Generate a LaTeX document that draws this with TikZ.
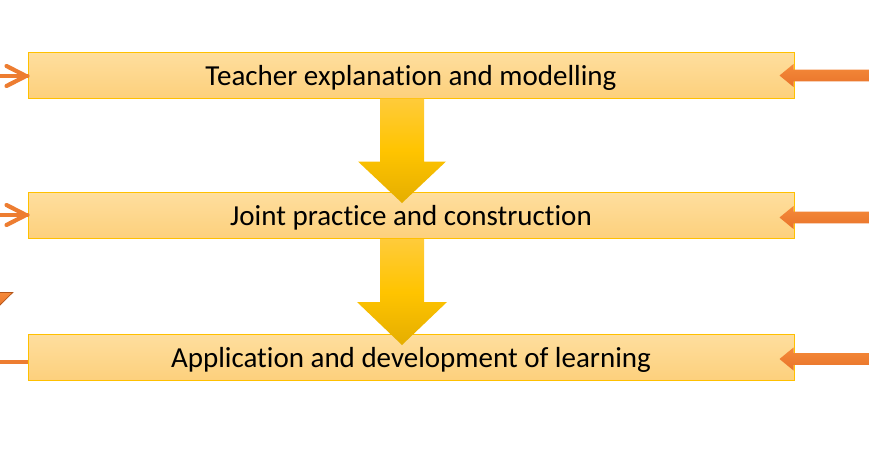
\documentclass[tikz,border=0pt]{standalone}
\usepackage{fontspec}
\setmainfont[Ligatures=NoCommon]{Carlito}
\usetikzlibrary{calc}
\definecolor{boxtop}{HTML}{FEDE9E}
\definecolor{boxbot}{HTML}{FDD07C}
\definecolor{boxline}{HTML}{FFC000}
\definecolor{dtop}{HTML}{FFCB3A}
\definecolor{dmid}{HTML}{FFC400}
\definecolor{dbot}{HTML}{E5AE00}
\definecolor{orng}{HTML}{ED7D31}
\definecolor{orngl}{HTML}{F58A3A}
\definecolor{orngd}{HTML}{E8732A}
\definecolor{brn}{HTML}{B5561A}
\tikzset{
  stagebox/.style={draw=boxline, line width=1pt, top color=boxtop, bottom color=boxbot,
    minimum width=766pt, minimum height=46pt, inner sep=0pt},
  stagetext/.style={anchor=base, font=\fontsize{29}{34}\selectfont, inner sep=0pt},
  downarrow/.style={top color=dtop, bottom color=dbot, middle color=dmid, draw=none},
  inarrow/.style={top color=orngl, bottom color=orngd, draw=none},
  linearrow/.style={draw=orng, line width=4.2pt, line cap=round, line join=round},
}
\begin{document}
\begin{tikzpicture}[x=1pt,y=-1pt]
\useasboundingbox (0,0) rectangle (869,456);
\fill[white] (0,0) rectangle (869,456);

\node[stagebox] (b1) at (411,75) {};
\node[stagebox] (b2) at (411,215.5) {};
\node[stagebox] (b3) at (411,357.5) {};

\node[stagetext] (t1) at (411,85) {Teacher explanation and modelling};
\node[stagetext] (t2) at (411,225.5) {Joint practice and construction};
\node[stagetext] (t3) at (411,367.5) {Application and development of learning};

% down block arrows
\coordinate (d1) at ($(b1.south)+(-9,0)$);
\coordinate (d2) at ($(b2.south)+(-9,0)$);
\path[downarrow] ($(d1)+(-22,0)$) -- ($(d1)+(22,0)$) -- ($(d1)+(22,63)$)
  -- ($(d1)+(44,63)$) -- ($(d1|-b2.north)+(0,11)$) -- ($(d1)+(-44,63)$)
  -- ($(d1)+(-22,63)$) -- cycle;
\path[downarrow] ($(d2)+(-22,0)$) -- ($(d2)+(22,0)$) -- ($(d2)+(22,63)$)
  -- ($(d2)+(45,63)$) -- ($(d2|-b3.north)+(0,11)$) -- ($(d2)+(-45,63)$)
  -- ($(d2)+(-22,63)$) -- cycle;

% right incoming block arrows
\coordinate (r1) at (869,75.5);
\coordinate (r2) at (869,217.5);
\coordinate (r3) at (869,359);
\foreach \r/\b in {r1/b1,r2/b2,r3/b3}{
  \path[inarrow] ($(\r)+(0,-5.8)$) -- ($(\b.east|-\r)+(-1,-5.8)$) -- ($(\b.east|-\r)+(-1,-11.5)$)
    -- ($(\b.east|-\r)+(-15,0)$) -- ($(\b.east|-\r)+(-1,11.5)$) -- ($(\b.east|-\r)+(-1,5.8)$)
    -- ($(\r)+(0,5.8)$) -- cycle;
}

% left incoming line arrows
\coordinate (l1) at (0,76);
\coordinate (l2) at (0,215);
\coordinate (l3) at (0,362);
\draw[linearrow] (l1) -- (b1.west|-l1);
\draw[linearrow] ($(b1.west|-l1)+(-21,-10)$) -- ($(b1.west|-l1)+(-1.5,0)$) -- ($(b1.west|-l1)+(-21,10)$);
\draw[linearrow] (l2) -- (b2.west|-l2);
\draw[linearrow] ($(b2.west|-l2)+(-21,-10)$) -- ($(b2.west|-l2)+(-1.5,0)$) -- ($(b2.west|-l2)+(-21,10)$);
\draw[draw=orng, line width=4.2pt] (l3) -- (b3.west|-l3);

% partial arrowhead at left
\path[draw=brn, line width=0.8pt, top color=orngl, bottom color=orngd]
  (-2,292.5) -- (12.7,292.5) -- (-2,307) -- cycle;
\end{tikzpicture}
\end{document}
